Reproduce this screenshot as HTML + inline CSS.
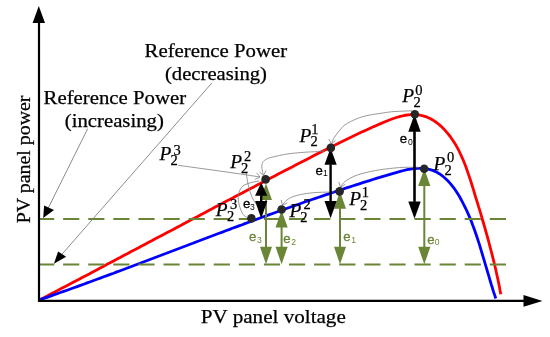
<!DOCTYPE html>
<html><head><meta charset="utf-8"><style>
html,body{margin:0;padding:0;background:#fff;width:550px;height:337px;overflow:hidden}
svg{display:block}
</style></head><body>
<svg width="550" height="337" viewBox="0 0 550 337">
<rect width="550" height="337" fill="#fff"/>
<path d="M40.3,299.6 L43.8,297.8 L47.3,295.9 L50.8,294.1 L54.2,292.3 L57.7,290.4 L61.2,288.6 L64.7,286.8 L68.2,284.9 L71.7,283.1 L75.2,281.2 L78.7,279.4 L82.2,277.5 L85.7,275.7 L89.2,273.9 L92.7,272.0 L96.2,270.2 L99.7,268.3 L103.2,266.5 L106.6,264.6 L110.1,262.8 L113.6,260.9 L117.1,259.0 L120.6,257.2 L124.1,255.3 L127.7,253.5 L131.2,251.6 L134.7,249.8 L138.2,247.9 L141.7,246.1 L145.2,244.2 L148.7,242.3 L152.2,240.5 L155.7,238.6 L159.2,236.8 L162.7,234.9 L166.2,233.1 L169.7,231.2 L173.2,229.4 L176.7,227.5 L180.2,225.7 L183.7,223.8 L187.2,221.9 L190.7,220.1 L194.2,218.2 L197.7,216.4 L201.2,214.5 L204.7,212.7 L208.2,210.8 L211.7,209.0 L215.2,207.1 L218.7,205.3 L222.2,203.5 L225.7,201.6 L229.2,199.8 L232.7,197.9 L236.2,196.1 L239.7,194.3 L243.2,192.4 L246.7,190.6 L250.2,188.7 L253.7,186.9 L257.2,185.1 L260.7,183.3 L264.2,181.4 L267.7,179.6 L271.2,177.8 L274.7,176.0 L278.2,174.1 L281.7,172.3 L285.1,170.5 L288.6,168.7 L292.1,166.9 L295.6,165.1 L299.1,163.3 L302.6,161.5 L306.1,159.7 L309.5,157.9 L313.0,156.1 L316.5,154.3 L320.0,152.5 L323.5,150.7 L327.0,149.0 L330.5,147.2 L334.1,145.4 L337.6,143.7 L341.1,141.9 L344.7,140.2 L348.3,138.5 L351.9,136.7 L355.5,135.0 L359.1,133.3 L362.7,131.6 L366.4,130.0 L370.1,128.3 L373.8,126.6 L377.5,125.0 L381.2,123.4 L385.0,121.8 L388.8,120.2 L392.6,118.8 L396.4,117.5 L400.3,116.4 L404.1,115.5 L408.0,114.9 L411.8,114.6 L415.6,114.6 L419.4,115.0 L423.0,115.8 L426.6,116.9 L430.0,118.5 L433.3,120.3 L436.5,122.5 L439.5,124.9 L442.4,127.5 L445.1,130.4 L447.7,133.4 L450.2,136.5 L452.4,139.7 L454.6,143.0 L456.6,146.4 L458.5,149.9 L460.2,153.5 L461.9,157.1 L463.5,160.8 L465.0,164.5 L466.4,168.3 L467.7,172.1 L469.0,175.9 L470.3,179.7 L471.5,183.5 L472.7,187.4 L473.9,191.2 L475.0,195.0 L476.2,198.8 L477.4,202.6 L478.5,206.4 L479.7,210.2 L480.8,213.9 L481.9,217.7 L483.0,221.5 L484.1,225.2 L485.2,229.0 L486.2,232.7 L487.3,236.5 L488.3,240.2 L489.3,244.0 L490.3,247.8 L491.3,251.6 L492.3,255.4 L493.2,259.2 L494.2,263.0 L495.1,266.8 L496.0,270.7 L496.8,274.5 L497.7,278.4 L498.5,282.3 L499.3,286.3 L500.0,290.2 L500.8,294.2" fill="none" stroke="#FF0000" stroke-width="2.8" stroke-linejoin="round"/>
<path d="M40.3,299.6 L43.7,298.4 L47.0,297.3 L50.4,296.1 L53.7,294.9 L57.1,293.7 L60.4,292.5 L63.7,291.4 L67.1,290.2 L70.4,289.0 L73.8,287.8 L77.1,286.6 L80.4,285.4 L83.7,284.2 L87.1,282.9 L90.4,281.7 L93.7,280.5 L97.0,279.3 L100.3,278.1 L103.7,276.8 L107.0,275.6 L110.3,274.4 L113.6,273.2 L116.9,271.9 L120.2,270.7 L123.5,269.5 L126.8,268.2 L130.1,267.0 L133.4,265.7 L136.7,264.5 L140.0,263.3 L143.3,262.0 L146.6,260.8 L149.9,259.5 L153.2,258.3 L156.5,257.0 L159.8,255.8 L163.1,254.5 L166.4,253.3 L169.7,252.0 L173.0,250.8 L176.3,249.5 L179.6,248.3 L182.9,247.0 L186.2,245.8 L189.5,244.5 L192.8,243.3 L196.0,242.0 L199.3,240.8 L202.6,239.5 L205.9,238.3 L209.2,237.0 L212.5,235.8 L215.8,234.5 L219.1,233.3 L222.4,232.1 L225.7,230.8 L229.0,229.6 L232.3,228.3 L235.6,227.1 L238.9,225.9 L242.2,224.7 L245.5,223.4 L248.8,222.2 L252.2,221.0 L255.5,219.8 L258.8,218.5 L262.1,217.3 L265.4,216.1 L268.7,214.9 L272.0,213.7 L275.4,212.5 L278.7,211.3 L282.0,210.1 L285.3,208.9 L288.7,207.7 L292.0,206.5 L295.3,205.4 L298.7,204.2 L302.0,203.0 L305.4,201.8 L308.7,200.7 L312.1,199.5 L315.4,198.4 L318.8,197.2 L322.1,196.1 L325.5,194.9 L328.8,193.8 L332.2,192.7 L335.6,191.5 L339.0,190.4 L342.3,189.3 L345.7,188.2 L349.1,187.1 L352.5,186.0 L355.9,184.9 L359.3,183.8 L362.7,182.7 L366.1,181.6 L369.5,180.6 L372.9,179.5 L376.3,178.4 L379.7,177.4 L383.1,176.3 L386.6,175.3 L390.0,174.3 L393.4,173.3 L396.9,172.3 L400.3,171.3 L403.7,170.5 L407.1,169.7 L410.5,169.1 L413.9,168.7 L417.2,168.4 L420.5,168.3 L423.8,168.5 L427.0,168.9 L430.2,169.6 L433.3,170.6 L436.4,172.0 L439.3,173.7 L442.3,175.8 L445.1,178.2 L447.8,180.8 L450.4,183.6 L452.8,186.6 L455.1,189.7 L457.1,192.7 L459.0,195.8 L460.8,199.0 L462.5,202.1 L464.1,205.3 L465.7,208.5 L467.2,211.7 L468.6,214.9 L470.0,218.1 L471.3,221.3 L472.5,224.6 L473.8,227.9 L475.0,231.2 L476.1,234.5 L477.2,237.8 L478.3,241.1 L479.4,244.4 L480.4,247.8 L481.4,251.1 L482.4,254.5 L483.4,257.8 L484.4,261.2 L485.4,264.6 L486.4,267.9 L487.4,271.3 L488.4,274.7 L489.4,278.1 L490.4,281.5 L491.4,284.9 L492.5,288.3 L493.5,291.7 L494.7,295.1 L495.8,298.5" fill="none" stroke="#0000FF" stroke-width="2.8" stroke-linejoin="round"/>
<line x1="38" y1="218.9" x2="506.2" y2="218.9" stroke="#6A8535" stroke-width="2.0" stroke-dasharray="16.2 8.9"/>
<line x1="38" y1="264.4" x2="506.2" y2="264.4" stroke="#6A8535" stroke-width="2.0" stroke-dasharray="16.2 8.9"/>
<line x1="87.7" y1="128.7" x2="47.5" y2="209.5" stroke="#7f7f7f" stroke-width="0.9"/>
<polygon points="43.2,217.9 44.1,205.5 54.0,210.1" fill="#000"/>
<line x1="211.8" y1="83" x2="60" y2="256.5" stroke="#7f7f7f" stroke-width="0.9"/>
<polygon points="53.9,263.8 58.1,251.4 66.1,256.7" fill="#000"/>
<line x1="39" y1="302" x2="39" y2="20" stroke="#000" stroke-width="2.2"/>
<polygon points="38.8,6 32.6,23 45,23" fill="#000"/>
<line x1="38" y1="300.9" x2="526" y2="300.9" stroke="#000" stroke-width="2.2"/>
<polygon points="542.5,300.9 523.5,295 523.5,306.7" fill="#000"/>
<path d="M412,110.8 C409.2,110.9 399.8,111.2 395,111.5 C390.2,111.8 388.0,112.2 383.5,112.9 C379.0,113.6 372.5,114.4 368,115.4 C363.5,116.4 360.5,117.2 356.7,118.8 C352.9,120.4 348.0,122.7 345,124.8 C342.0,126.9 340.8,129.1 338.9,131.3 C337.0,133.6 335.1,136.2 333.8,138.3 C332.6,140.4 331.8,143.1 331.4,144" fill="none" stroke="#7f7f7f" stroke-width="0.8"/>
<line x1="331.4" y1="144" x2="328.8" y2="139.1" stroke="#7f7f7f" stroke-width="0.8"/><line x1="331.4" y1="144" x2="335.5" y2="140.3" stroke="#7f7f7f" stroke-width="0.8"/>
<path d="M325,151 C323.0,151.1 316.5,151.6 313,151.8 C309.5,152.0 307.9,152.0 304.1,152.3 C300.3,152.6 294.1,153.1 290,153.6 C285.9,154.1 283.1,154.7 279.5,155.5 C275.9,156.3 271.2,157.2 268.5,158.2 C265.8,159.2 264.4,160.2 263.3,161.5 C262.2,162.8 262.0,164.4 261.8,166 C261.6,167.6 262.1,169.5 262.4,171.1 C262.7,172.7 263.2,174.8 263.4,175.5" fill="none" stroke="#7f7f7f" stroke-width="0.8"/>
<line x1="263.4" y1="175.5" x2="259.3" y2="171.8" stroke="#7f7f7f" stroke-width="0.8"/><line x1="263.4" y1="175.5" x2="266.0" y2="170.6" stroke="#7f7f7f" stroke-width="0.8"/>
<path d="M419,167.3 C416.7,167.3 409.2,167.2 405,167.3 C400.8,167.4 398.5,167.6 393.6,168.1 C388.7,168.6 381.6,169.3 375.5,170.5 C369.4,171.7 362.2,173.3 357.3,175 C352.4,176.7 349.0,178.8 346.4,180.5 C343.8,182.2 342.8,183.9 341.8,185 C340.8,186.1 340.7,186.8 340.5,187.2" fill="none" stroke="#7f7f7f" stroke-width="0.8"/>
<line x1="340.5" y1="187.2" x2="338.8" y2="182.0" stroke="#7f7f7f" stroke-width="0.8"/><line x1="340.5" y1="187.2" x2="345.2" y2="184.3" stroke="#7f7f7f" stroke-width="0.8"/>
<path d="M334,191.8 C333.1,191.9 332.0,191.9 328.5,192.1 C325.0,192.2 317.9,192.3 313.2,192.7 C308.5,193.1 304.3,193.8 300.5,194.6 C296.7,195.4 293.0,196.5 290.3,197.8 C287.6,199.1 285.8,201.1 284.5,202.3 C283.2,203.6 282.8,204.8 282.4,205.3" fill="none" stroke="#7f7f7f" stroke-width="0.8"/>
<line x1="282.4" y1="205.3" x2="281.2" y2="199.9" stroke="#7f7f7f" stroke-width="0.8"/><line x1="282.4" y1="205.3" x2="287.3" y2="202.8" stroke="#7f7f7f" stroke-width="0.8"/>
<path d="M178.2,165.3 C205,169 235,173 260,177" fill="none" stroke="#7f7f7f" stroke-width="0.8"/>
<line x1="260" y1="177" x2="255.1" y2="179.4" stroke="#7f7f7f" stroke-width="0.8"/><line x1="260" y1="177" x2="256.5" y2="172.8" stroke="#7f7f7f" stroke-width="0.8"/>
<path d="M259,181 C257.2,181.4 250.9,182.4 248,183.5 C245.1,184.6 243.2,185.3 241.6,187.3 C240.0,189.3 238.8,192.4 238.4,195.3 C238.0,198.2 238.4,201.7 239.2,204.9 C240.0,208.1 241.8,212.4 243.2,214.5 C244.6,216.6 246.8,217.1 247.5,217.6" fill="none" stroke="#7f7f7f" stroke-width="0.8"/>
<path d="M246.1,171.2 C246.4,173.3 247.1,180.0 248,184 C248.9,188.0 250.2,192.4 251.3,195.3 C252.4,198.2 253.7,200.2 254.5,201.7 C255.3,203.1 255.8,203.6 256,204" fill="none" stroke="#7f7f7f" stroke-width="0.8"/>
<line x1="266.0" y1="199.5" x2="266.0" y2="247.3" stroke="#6A8535" stroke-width="2"/><polygon points="266.0,183.5 260.0,200.0 272.0,200.0" fill="#6A8535"/><polygon points="266.0,264.2 260.0,246.8 272.0,246.8" fill="#6A8535"/>
<line x1="281.6" y1="227.0" x2="281.6" y2="247.3" stroke="#6A8535" stroke-width="2"/><polygon points="281.6,210.5 275.5,227.5 287.7,227.5" fill="#6A8535"/><polygon points="281.6,264.2 275.5,246.8 287.7,246.8" fill="#6A8535"/>
<line x1="340.0" y1="208.3" x2="340.0" y2="247.3" stroke="#6A8535" stroke-width="2"/><polygon points="340.0,191.5 334.0,208.8 346.0,208.8" fill="#6A8535"/><polygon points="340.0,264.2 334.0,246.8 346.0,246.8" fill="#6A8535"/>
<line x1="424.3" y1="185.5" x2="424.3" y2="247.3" stroke="#6A8535" stroke-width="2"/><polygon points="424.3,168.8 418.2,186.0 430.4,186.0" fill="#6A8535"/><polygon points="424.3,264.2 418.2,246.8 430.4,246.8" fill="#6A8535"/>
<line x1="261.2" y1="195.3" x2="261.2" y2="201.5" stroke="#000" stroke-width="2.4"/><polygon points="261.2,182.5 255.1,195.8 267.3,195.8" fill="#000"/><polygon points="261.2,218.4 255.1,201.0 267.3,201.0" fill="#000"/>
<line x1="330.6" y1="164.3" x2="330.6" y2="201.6" stroke="#000" stroke-width="2.4"/><polygon points="330.6,148.0 324.5,164.8 336.7,164.8" fill="#000"/><polygon points="330.6,218.3 324.5,201.1 336.7,201.1" fill="#000"/>
<line x1="414.5" y1="131.2" x2="414.5" y2="201.9" stroke="#000" stroke-width="2.6"/><polygon points="414.5,114.3 408.3,131.7 420.7,131.7" fill="#000"/><polygon points="414.5,218.8 408.3,201.4 420.7,201.4" fill="#000"/>
<circle cx="414.8" cy="114.3" r="4.3" fill="#262626"/>
<circle cx="424.2" cy="168.7" r="4.3" fill="#262626"/>
<circle cx="330.8" cy="147.9" r="4.3" fill="#262626"/>
<circle cx="339.6" cy="191.4" r="4.3" fill="#262626"/>
<circle cx="265.6" cy="179.4" r="4.3" fill="#262626"/>
<circle cx="281.6" cy="209.5" r="4.3" fill="#262626"/>
<circle cx="251.4" cy="218.4" r="4.3" fill="#262626"/>
<text x="144.6" y="56.5" style="font-family:'Liberation Serif',serif;font-size:18.6px;stroke:#000;stroke-width:0.25" text-anchor="start" fill="#000" textLength="142.5" lengthAdjust="spacingAndGlyphs">Reference Power</text>
<text x="165.0" y="79.6" style="font-family:'Liberation Serif',serif;font-size:18.6px;stroke:#000;stroke-width:0.25" text-anchor="start" fill="#000" textLength="102" lengthAdjust="spacingAndGlyphs">(decreasing)</text>
<text x="43.6" y="103.8" style="font-family:'Liberation Serif',serif;font-size:18.6px;stroke:#000;stroke-width:0.25" text-anchor="start" fill="#000" textLength="142.5" lengthAdjust="spacingAndGlyphs">Reference Power</text>
<text x="64.8" y="126.5" style="font-family:'Liberation Serif',serif;font-size:18.6px;stroke:#000;stroke-width:0.25" text-anchor="start" fill="#000" textLength="99" lengthAdjust="spacingAndGlyphs">(increasing)</text>
<text x="200.8" y="323.1" style="font-family:'Liberation Serif',serif;font-size:19.5px;stroke:#000;stroke-width:0.25" text-anchor="start" fill="#000" textLength="145" lengthAdjust="spacingAndGlyphs">PV panel voltage</text>
<text transform="translate(29.5,223.3) rotate(-90)" style="font-family:'Liberation Serif',serif;font-size:19.3px;stroke:#000;stroke-width:0.25" textLength="127.8" lengthAdjust="spacingAndGlyphs">PV panel power</text>
<text x="402.2" y="102.4" style="font-family:'Liberation Serif',serif;font-size:19.3px;font-style:italic;stroke:#000;stroke-width:0.25" text-anchor="start" fill="#000">P</text><text x="415.2" y="94.5" style="font-family:'Liberation Serif',serif;font-size:14.5px;stroke:#000;stroke-width:0.25" text-anchor="start" fill="#000">0</text><text x="413.59999999999997" y="107.4" style="font-family:'Liberation Serif',serif;font-size:14.5px;stroke:#000;stroke-width:0.25" text-anchor="start" fill="#000">2</text>
<text x="433.4" y="170.3" style="font-family:'Liberation Serif',serif;font-size:19.3px;font-style:italic;stroke:#000;stroke-width:0.25" text-anchor="start" fill="#000">P</text><text x="447.0" y="162.2" style="font-family:'Liberation Serif',serif;font-size:14.5px;stroke:#000;stroke-width:0.25" text-anchor="start" fill="#000">0</text><text x="444.5" y="175.1" style="font-family:'Liberation Serif',serif;font-size:14.5px;stroke:#000;stroke-width:0.25" text-anchor="start" fill="#000">2</text>
<text x="299.5" y="141.6" style="font-family:'Liberation Serif',serif;font-size:19.3px;font-style:italic;stroke:#000;stroke-width:0.25" text-anchor="start" fill="#000">P</text><text x="311.2" y="133.9" style="font-family:'Liberation Serif',serif;font-size:14.5px;stroke:#000;stroke-width:0.25" text-anchor="start" fill="#000">1</text><text x="310.4" y="146.1" style="font-family:'Liberation Serif',serif;font-size:14.5px;stroke:#000;stroke-width:0.25" text-anchor="start" fill="#000">2</text>
<text x="349.2" y="204.5" style="font-family:'Liberation Serif',serif;font-size:19.3px;font-style:italic;stroke:#000;stroke-width:0.25" text-anchor="start" fill="#000">P</text><text x="361.7" y="197.4" style="font-family:'Liberation Serif',serif;font-size:14.5px;stroke:#000;stroke-width:0.25" text-anchor="start" fill="#000">1</text><text x="360.09999999999997" y="209.5" style="font-family:'Liberation Serif',serif;font-size:14.5px;stroke:#000;stroke-width:0.25" text-anchor="start" fill="#000">2</text>
<text x="230.2" y="168.4" style="font-family:'Liberation Serif',serif;font-size:19.3px;font-style:italic;stroke:#000;stroke-width:0.25" text-anchor="start" fill="#000">P</text><text x="244.0" y="160.9" style="font-family:'Liberation Serif',serif;font-size:14.5px;stroke:#000;stroke-width:0.25" text-anchor="start" fill="#000">2</text><text x="241.1" y="173.4" style="font-family:'Liberation Serif',serif;font-size:14.5px;stroke:#000;stroke-width:0.25" text-anchor="start" fill="#000">2</text>
<text x="289.6" y="216.8" style="font-family:'Liberation Serif',serif;font-size:19.3px;font-style:italic;stroke:#000;stroke-width:0.25" text-anchor="start" fill="#000">P</text><text x="303.5" y="209.3" style="font-family:'Liberation Serif',serif;font-size:14.5px;stroke:#000;stroke-width:0.25" text-anchor="start" fill="#000">2</text><text x="300.2" y="221.8" style="font-family:'Liberation Serif',serif;font-size:14.5px;stroke:#000;stroke-width:0.25" text-anchor="start" fill="#000">2</text>
<text x="215.8" y="216" style="font-family:'Liberation Serif',serif;font-size:19.3px;font-style:italic;stroke:#000;stroke-width:0.25" text-anchor="start" fill="#000">P</text><text x="230.1" y="208.5" style="font-family:'Liberation Serif',serif;font-size:14.5px;stroke:#000;stroke-width:0.25" text-anchor="start" fill="#000">3</text><text x="226.9" y="221" style="font-family:'Liberation Serif',serif;font-size:14.5px;stroke:#000;stroke-width:0.25" text-anchor="start" fill="#000">2</text>
<text x="159.6" y="160.4" style="font-family:'Liberation Serif',serif;font-size:19.3px;font-style:italic;stroke:#000;stroke-width:0.25" text-anchor="start" fill="#000">P</text><text x="173.39999999999998" y="154.5" style="font-family:'Liberation Serif',serif;font-size:14.5px;stroke:#000;stroke-width:0.25" text-anchor="start" fill="#000">3</text><text x="170.6" y="165.3" style="font-family:'Liberation Serif',serif;font-size:14.5px;stroke:#000;stroke-width:0.25" text-anchor="start" fill="#000">2</text>
<text x="399.8" y="143.2" style="font-family:'Liberation Sans',sans-serif;font-size:13.2px;stroke:#000;stroke-width:0.3" text-anchor="start" fill="#000">e</text><text x="407.9" y="145" style="font-family:'Liberation Sans',sans-serif;font-size:8.6px;" text-anchor="start" fill="#000">0</text>
<text x="315.4" y="175.4" style="font-family:'Liberation Sans',sans-serif;font-size:13.2px;stroke:#000;stroke-width:0.3" text-anchor="start" fill="#000">e</text><text x="323.1" y="175.9" style="font-family:'Liberation Sans',sans-serif;font-size:8.6px;" text-anchor="start" fill="#000">1</text>
<text x="242.9" y="208.3" style="font-family:'Liberation Sans',sans-serif;font-size:13.2px;stroke:#000;stroke-width:0.3" text-anchor="start" fill="#000">e</text><text x="250.0" y="210" style="font-family:'Liberation Sans',sans-serif;font-size:8.6px;" text-anchor="start" fill="#000">3</text>
<text x="248.9" y="240.8" style="font-family:'Liberation Sans',sans-serif;font-size:13.2px;stroke:#6A8535;stroke-width:0.3" text-anchor="start" fill="#6A8535">e</text><text x="257.0" y="242.5" style="font-family:'Liberation Sans',sans-serif;font-size:8.6px;" text-anchor="start" fill="#6A8535">3</text>
<text x="283.3" y="243" style="font-family:'Liberation Sans',sans-serif;font-size:13.2px;stroke:#6A8535;stroke-width:0.3" text-anchor="start" fill="#6A8535">e</text><text x="291.2" y="245.2" style="font-family:'Liberation Sans',sans-serif;font-size:8.6px;" text-anchor="start" fill="#6A8535">2</text>
<text x="343.2" y="241.4" style="font-family:'Liberation Sans',sans-serif;font-size:13.2px;stroke:#6A8535;stroke-width:0.3" text-anchor="start" fill="#6A8535">e</text><text x="351.3" y="242.5" style="font-family:'Liberation Sans',sans-serif;font-size:8.6px;" text-anchor="start" fill="#6A8535">1</text>
<text x="427.2" y="243.5" style="font-family:'Liberation Sans',sans-serif;font-size:13.2px;stroke:#6A8535;stroke-width:0.3" text-anchor="start" fill="#6A8535">e</text><text x="434.7" y="244.6" style="font-family:'Liberation Sans',sans-serif;font-size:8.6px;" text-anchor="start" fill="#6A8535">0</text>
</svg>
</body></html>
